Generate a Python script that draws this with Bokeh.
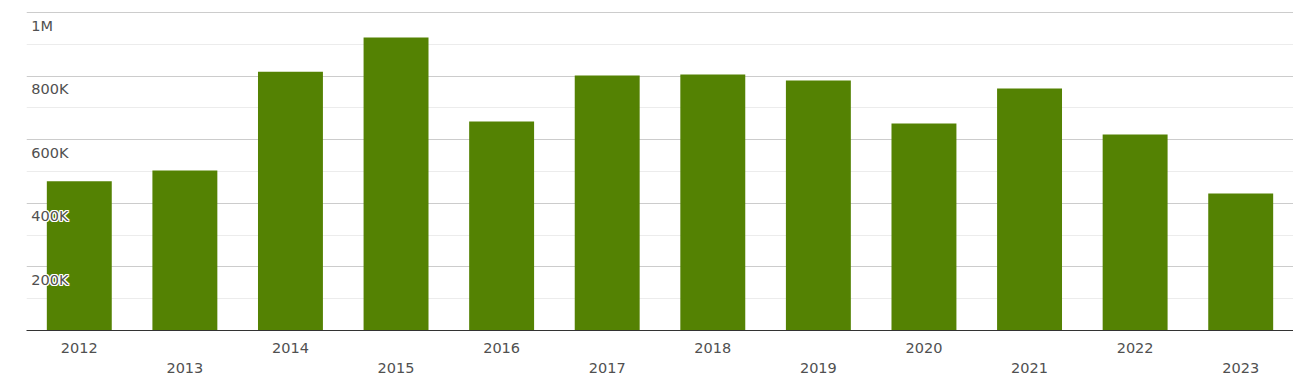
from bokeh.plotting import figure
from bokeh.models import FixedTicker, LinearAxis, ColumnDataSource
from bokeh.core.properties import value
from bokeh.embed import file_html
from bokeh.resources import INLINE

years = ["2012", "2013", "2014", "2015", "2016", "2017", "2018", "2019", "2020", "2021", "2022", "2023"]
values = [469000, 503000, 814000, 921000, 657000, 802000, 805000, 786000, 651000, 761000, 616000, 431000]
ytick_vals = [200000, 400000, 600000, 800000, 1000000]
ytick_labels = ["200K", "400K", "600K", "800K", "1M"]
yminor_vals = [100000, 300000, 500000, 700000, 900000]

FONT = "DejaVu Sans"
TXT = "#505050"
FS = "14.5px"

idx = list(range(len(years)))

p = figure(x_range=(-0.5, len(years) - 0.5), y_range=(0, 1037736), width=1293, height=384,
           output_backend="svg", toolbar_location=None, x_axis_type=None,
           min_border_left=26, min_border_right=0, min_border_top=0, min_border_bottom=54)
p.outline_line_color = None
p.background_fill_color = "white"
p.border_fill_color = "white"

src = ColumnDataSource(dict(x=idx, top=values))
p.vbar(x="x", top="top", width=0.615, source=src, color="#548203", line_color=None)

p.yaxis.visible = False
p.xgrid.grid_line_color = None
p.ygrid.ticker = FixedTicker(ticks=ytick_vals, minor_ticks=yminor_vals)
p.ygrid.grid_line_color = "#cccccc"
p.ygrid.grid_line_width = 1
p.ygrid.minor_grid_line_color = "#ececec"

even = [i for i in idx if i % 2 == 0]
odd = [i for i in idx if i % 2 == 1]

ax = LinearAxis(ticker=FixedTicker(ticks=even, minor_ticks=[]),
                axis_line_color="#333333", major_tick_line_color=None,
                minor_tick_line_color=None, major_tick_out=0, major_tick_in=0,
                major_label_standoff=12, major_label_text_font=FONT,
                major_label_text_font_size=FS, major_label_text_color=TXT,
                major_label_overrides={i: years[i] for i in even})
p.add_layout(ax, "below")

ax2 = LinearAxis(ticker=FixedTicker(ticks=odd, minor_ticks=[]),
                 axis_line_color=None, major_tick_line_color=None,
                 minor_tick_line_color=None, major_tick_out=0, major_tick_in=0,
                 major_label_standoff=7, major_label_text_font=FONT,
                 major_label_text_font_size=FS, major_label_text_color=TXT,
                 major_label_overrides={i: years[i] for i in odd})
p.add_layout(ax2, "below")

# y labels inside plot, with white halo
lsrc = ColumnDataSource(dict(y=ytick_vals, t=ytick_labels, x=[idx[0]] * len(ytick_vals)))
for dx, dy in [(-1, -1), (0, -1), (1, -1), (-1, 0), (1, 0), (-1, 1), (0, 1), (1, 1)]:
    p.text(x="x", y="y", text="t", source=lsrc, x_offset=-48 + dx, y_offset=5 + dy,
           text_font=value(FONT), text_font_size=FS, text_color="white",
           text_align="left", text_baseline="top")
p.text(x="x", y="y", text="t", source=lsrc, x_offset=-48, y_offset=5,
       text_font=value(FONT), text_font_size=FS, text_color=TXT,
       text_align="left", text_baseline="top")

open("out.html", "w").write(file_html(p, INLINE))
